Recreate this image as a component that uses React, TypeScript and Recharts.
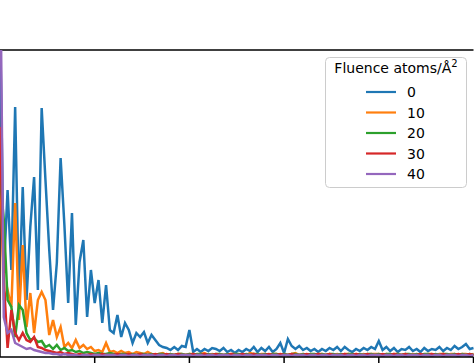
import { Line, LineChart, ReferenceLine, XAxis, YAxis } from 'recharts'

// sampled every 4 energy units, 0..500
const STEP = 4

const fluence0 = [
  340, 84, 167, 87, 250, 54, 170, 57, 130, 180,
  67, 249, 177, 107, 47, 94, 199, 132, 54, 144,
  32, 95, 117, 40, 87, 54, 77, 34, 72, 27,
  24, 42, 20, 34, 27, 14, 24, 20, 25, 14,
  22, 17, 12, 10, 9, 7, 10, 7, 11, 10,
  27, 5, 8, 5, 8, 6, 9, 8, 6, 9,
  5, 7, 4, 7, 5, 8, 6, 10, 5, 9,
  6, 10, 5, 8, 14, 4, 18, 11, 8, 11,
  7, 9, 6, 8, 5, 8, 6, 9, 7, 10,
  6, 10, 7, 5, 8, 6, 9, 7, 10, 8,
  16, 7, 10, 6, 9, 5, 8, 7, 10, 6,
  8, 5, 9, 6, 8, 7, 10, 6, 9, 7,
  11, 8, 10, 13, 8, 9,
]

const fluence10 = [
  207, 57, 67, 50, 154, 37, 112, 30, 64, 24,
  57, 65, 57, 22, 37, 20, 30, 10, 14, 9,
  17, 9, 12, 8, 10, 6, 7, 5, 14, 5,
  6, 4, 6, 4, 5, 3, 5, 4, 3, 5,
  3, 2, 3, 4, 2, 3, 2, 3, 3, 2,
  3, 3, 2, 3, 4, 2, 3, 2, 3, 2,
  2, 3, 3, 2, 3, 2, 4, 3, 2, 3,
  3, 2, 3, 3, 2, 3, 2, 3, 4, 2,
  3, 2, 3, 2, 3, 3, 2, 3, 2, 3,
  2, 3, 3, 2, 3, 2, 3, 2, 3, 3,
  3, 2, 3, 2, 3, 3, 2, 3, 2, 3,
  2, 3, 2, 3, 3, 2, 3, 3, 2, 3,
  3, 2, 3, 3, 2, 3,
]

const fluence20 = [
  180, 137, 57, 50, 20, 52, 47, 24, 17, 19,
  15, 16, 10, 12, 8, 12, 7, 9, 6, 7,
  5, 6, 4, 5, 4, 3, 4, 3, 3, 4,
  3, 2, 3, 3, 2, 3, 2, 3, 3, 2,
  3, 2, 3, 3, 2, 3, 2, 3, 3, 2,
  3, 2, 3, 3, 2, 3, 2, 3, 3, 2,
  3, 2, 3, 3, 2, 3, 2, 3, 3, 2,
  3, 2, 3, 3, 2, 3, 2, 3, 3, 2,
  3, 2, 3, 3, 2, 3, 2, 3, 3, 2,
  3, 2, 3, 3, 2, 3, 2, 3, 3, 2,
  3, 2, 3, 3, 2, 3, 2, 3, 3, 2,
  3, 2, 3, 3, 2, 3, 2, 3, 3, 2,
  3, 2, 3, 2, 3, 2,
]

const fluence30 = [
  230, 77, 9, 47, 24, 17, 24, 17, 15, 20,
  10, 9, 7, 6, 5, 4, 5, 3, 4, 3,
  2, 3, 2, 2, 3, 2, 2, 3, 2, 2,
  2, 3, 2, 2, 3, 2, 2, 3, 2, 2,
  2, 3, 2, 2, 3, 2, 2, 3, 2, 2,
  2, 3, 2, 2, 3, 2, 2, 3, 2, 2,
  2, 3, 2, 2, 3, 2, 2, 3, 2, 2,
  2, 3, 2, 2, 3, 2, 2, 3, 2, 2,
  2, 3, 2, 2, 3, 2, 2, 3, 2, 2,
  2, 3, 2, 2, 3, 2, 2, 3, 2, 2,
  2, 3, 2, 2, 3, 2, 2, 3, 2, 2,
  2, 3, 2, 2, 3, 2, 2, 3, 2, 2,
  2, 3, 2, 2, 3, 2,
]

const fluence40 = [
  420, 40, 24, 27, 14, 12, 10, 8, 9, 7,
  6, 5, 4, 4, 3, 3, 2, 3, 2, 2,
  2, 1, 2, 2, 1, 2, 2, 1, 2, 2,
  2, 1, 2, 2, 1, 2, 2, 1, 2, 2,
  2, 1, 2, 2, 1, 2, 2, 1, 2, 2,
  2, 1, 2, 2, 1, 2, 2, 1, 2, 2,
  2, 1, 2, 2, 1, 2, 2, 1, 2, 2,
  2, 1, 2, 2, 1, 2, 2, 1, 2, 2,
  2, 1, 2, 2, 1, 2, 2, 1, 2, 2,
  2, 1, 2, 2, 1, 2, 2, 1, 2, 2,
  2, 1, 2, 2, 1, 2, 2, 1, 2, 2,
  2, 1, 2, 2, 1, 2, 2, 1, 2, 2,
  2, 1, 2, 2, 1, 2,
]

const xTicks = [0, 100, 200, 300, 400, 500]

const series = [
  { key: 'f0', label: '0', color: '#1f77b4', values: fluence0 },
  { key: 'f10', label: '10', color: '#ff7f0e', values: fluence10 },
  { key: 'f20', label: '20', color: '#2ca02c', values: fluence20 },
  { key: 'f30', label: '30', color: '#d62728', values: fluence30 },
  { key: 'f40', label: '40', color: '#9467bd', values: fluence40 },
]

const data = fluence0.map((_, i) => {
  const row: Record<string, number> = { energy: i * STEP }
  series.forEach((s) => {
    row[s.key] = s.values[i]
  })
  return row
})

const font = '"DejaVu Sans", sans-serif'

function FluenceLegend() {
  return (
    <svg width={142} height={131} style={{ display: 'block' }}>
      <rect
        x={0.5}
        y={0.5}
        width={141}
        height={130}
        rx={4}
        fill="#fff"
        fillOpacity={0.8}
        stroke="#cccccc"
      />
      <text x={71} y={16} textAnchor="middle" fontSize={14} fontFamily={font} fill="#000">
        Fluence atoms/Å<tspan dy={-6} fontSize={10}>2</tspan>
      </text>
      {series.map((s, i) => {
        const cy = 35 + i * 20.5
        return (
          <g key={s.key}>
            <line x1={41} x2={71} y1={cy} y2={cy} stroke={s.color} strokeWidth={2.2} />
            <text x={82} y={cy + 5} fontSize={14} fontFamily={font} fill="#000">
              {s.label}
            </text>
          </g>
        )
      })}
    </svg>
  )
}

export default function App() {
  return (
    <div
      style={{
        position: 'absolute',
        left: 0,
        top: 0,
        width: 474,
        height: 363,
        overflow: 'hidden',
        background: '#fff',
      }}
    >
      <LineChart
        width={474}
        height={400}
        data={data}
        margin={{ top: 50, right: 0.5, left: 0, bottom: 0 }}
      >
        <XAxis
          dataKey="energy"
          type="number"
          domain={[0, 500]}
          ticks={xTicks}
          height={43}
          tickSize={7}
          axisLine={{ stroke: '#000', strokeWidth: 1.5 }}
          tickLine={{ stroke: '#000', strokeWidth: 1.5 }}
          tick={() => <g />}
        />
        <YAxis hide domain={[0, 307]} allowDataOverflow />
        <ReferenceLine y={307} stroke="#000" strokeWidth={1.5} />
        <ReferenceLine x={0} stroke="#000" strokeWidth={1.5} />
        {series.map((s) => (
          <Line
            key={s.key}
            type="linear"
            dataKey={s.key}
            stroke={s.color}
            strokeWidth={2.5}
            dot={false}
            isAnimationActive={false}
          />
        ))}
      </LineChart>
      <div style={{ position: 'absolute', top: 57, left: 325 }}>
        <FluenceLegend />
      </div>
    </div>
  )
}
